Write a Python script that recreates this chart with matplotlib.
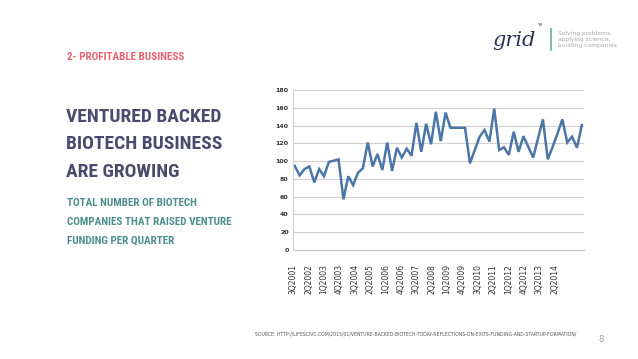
import matplotlib.pyplot as plt
import numpy as np
from matplotlib import font_manager

# quarterly count of venture-backed biotech companies
counts = [94.5, 84, 91, 94, 76, 91, 83, 99, 100.5, 102,
          57, 83, 73, 87, 92, 121, 94, 108, 90, 121,
          89, 115, 104, 114, 106, 143, 110.5, 142, 119, 155.5,
          122.5, 154.5, 137.5, 137.5, 137.5, 137.5, 97.5, 112.5, 127.5, 135,
          122, 159, 112.5, 115.5, 107, 133, 110.5, 128, 116, 104,
          125.5, 147, 102, 116, 131, 147, 121, 127.5, 115, 140.5]
quarter_labels = ['3Q2001', '2Q2002', '1Q2003', '4Q2003', '3Q2004', '2Q2005',
                  '1Q2006', '4Q2006', '3Q2007', '2Q2008', '1Q2009', '4Q2009',
                  '3Q2010', '2Q2011', '1Q2012', '4Q2012', '3Q2013', '2Q2014']
y_ticks = [0, 20, 40, 60, 80, 100, 120, 140, 160, 180]

# pick a condensed face if one is installed
names = {f.name for f in font_manager.fontManager.ttflist}
narrow = [n for n in ['Liberation Sans Narrow', 'DejaVu Sans Condensed',
                      'Roboto Condensed', 'Open Sans Condensed']
          if n in names] + ['Roboto', 'DejaVu Sans']

fig = plt.figure(figsize=(6.38, 3.59), dpi=100)
fig.patch.set_facecolor('white')

ax = fig.add_axes([0.459, 0.3036, 0.456, 0.4457])
x = np.arange(len(counts))
ax.plot(x, counts, color='#4a76a8', lw=1.8, solid_joinstyle='miter')
ax.set_ylim(0, 180)
ax.set_xlim(-0.4, len(counts) - 1 + 0.4)
ax.set_yticks(y_ticks)
ax.set_yticklabels([str(v) for v in y_ticks], fontsize=4.5, color='#333333',
                   fontweight='bold')
ax.set_xticks(np.linspace(-0.3, 53.4, len(quarter_labels)))
ax.set_xticklabels(quarter_labels, rotation=90, fontsize=5.5, color='#333333')
ax.tick_params(axis='y', length=0, pad=3)
ax.tick_params(axis='x', length=0, pad=10)
ax.grid(axis='y', color='#d0d0d0', lw=0.8)
ax.set_axisbelow(True)
for s in ['top', 'right']:
    ax.spines[s].set_visible(False)
ax.spines['left'].set_color('#d0d0d0')
ax.spines['bottom'].set_color('#c8c8c8')

# slide text
fig.text(67 / 638, 1 - 57 / 359, '2- PROFITABLE BUSINESS', color='#e8646f',
         fontsize=8, family=narrow, fontweight='bold', va='center',
         fontstretch='condensed')
for i, line in enumerate(['VENTURED BACKED', 'BIOTECH BUSINESS', 'ARE GROWING']):
    fig.text(66 / 638, 1 - (117 + 27.5 * i) / 359, line, color='#4a4a6e',
             fontsize=14, family=narrow, fontweight='bold', va='center',
             fontstretch='condensed')
for i, line in enumerate(['TOTAL NUMBER OF BIOTECH',
                          'COMPANIES THAT RAISED VENTURE',
                          'FUNDING PER QUARTER']):
    fig.text(67 / 638, 1 - (203 + 19 * i) / 359, line, color='#4d8f8a',
             fontsize=8, family=narrow, fontweight='bold', va='center',
             fontstretch='condensed')

# logo
fig.text(492 / 638, 1 - 41 / 359, 'grid', color='#2c3357', fontsize=15,
         style='italic', family='DejaVu Serif', va='center')
fig.text(537 / 638, 1 - 25 / 359, 'TM', color='#2c3357', fontsize=2.5,
         va='center')
fig.add_artist(plt.Line2D([551 / 638, 551 / 638], [1 - 50 / 359, 1 - 29 / 359],
                          color='#6aa9a0', lw=1.2))
fig.text(558 / 638, 1 - 39.5 / 359,
         'Solving problems,\napplying science,\nbuilding companies',
         color='#a8a8a8', fontsize=4.3, va='center', linespacing=1.15)

fig.text(255 / 638, 1 - 334 / 359,
         'SOURCE: HTTP://LIFESCIVC.COM/2015/01/VENTURE-BACKED-BIOTECH-TODAY-'
         'REFLECTIONS-ON-EXITS-FUNDING-AND-STARTUP-FORMATION/',
         color='#555555', fontsize=3.3, va='center')
fig.text(598 / 638, 1 - 340 / 359, '8', color='#a0a0a0', fontsize=6,
         va='center')

fig.savefig('out.png', dpi=100)
